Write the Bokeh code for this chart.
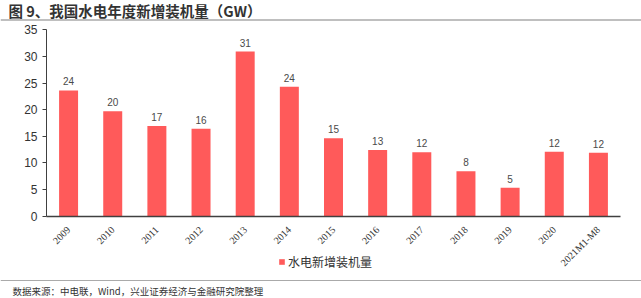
from bokeh.plotting import figure
from bokeh.models import (ColumnDataSource, Range1d, FixedTicker, LabelSet, Label, Span,
                          Legend, LegendItem)
from bokeh.core.properties import value
from bokeh.embed import file_html
from bokeh.resources import INLINE
from math import pi

years = ["2009", "2010", "2011", "2012", "2013", "2014", "2015", "2016",
         "2017", "2018", "2019", "2020", "2021M1-M8"]
capacity = [23.6, 19.7, 16.9, 16.4, 30.9, 24.3, 14.6, 12.4, 12.0, 8.4, 5.3, 12.1, 11.9]
value_labels = ["24", "20", "17", "16", "31", "24", "15", "13", "12", "8", "5", "12", "12"]
y_ticks = [0, 5, 10, 15, 20, 25, 30, 35]
series_name = "水电新增装机量"
title_text = "图 9、我国水电年度新增装机量（GW）"
source_text = "数据来源：中电联，Wind，兴业证券经济与金融研究院整理"

BAR = "#FF5A5A"
CJK = "Noto Sans CJK SC"
W, H = 641, 298

# pixel geometry of the plotting area inside the full-canvas frame
AX_LEFT, AX_RIGHT = 46, 620      # x-axis extent in pixels
Y0_PX, YTOP_PX = 215.5, 29.3     # pixel rows of y=0 and y=35
n = len(years)
xu = (AX_RIGHT - AX_LEFT) / n
yu = (Y0_PX - YTOP_PX) / 35.0


def px_x(px):
    return -0.5 + (px - AX_LEFT) / xu


def px_y(py):
    return (Y0_PX - py) / yu


xs = list(range(n))
src = ColumnDataSource(dict(x=xs, y=capacity, lab=value_labels))

p = figure(width=W, height=H, x_range=Range1d(px_x(0), px_x(W)),
           y_range=Range1d(px_y(H), px_y(0)), output_backend="svg", toolbar_location=None,
           min_border=0)
p.outline_line_color = None
p.xgrid.grid_line_color = None
p.ygrid.grid_line_color = None

r = p.vbar(x="x", top="y", width=0.43, source=src, fill_color=BAR, line_color=None)

p.add_layout(LabelSet(x="x", y="y", text="lab", source=src, y_offset=5, text_align="center",
                      text_baseline="bottom", text_font_size=value("10px"),
                      text_color=value("#4a4a4a"), text_font=value("Liberation Sans")))

yax = p.yaxis[0]
yax.fixed_location = -0.5
yax.bounds = (0, 35)
yax.ticker = FixedTicker(ticks=y_ticks)
yax.axis_line_color = "#404040"
yax.major_tick_line_color = "#404040"
yax.major_tick_in = 0
yax.major_tick_out = 4
yax.minor_tick_line_color = None
yax.major_label_text_font = "Liberation Sans"
yax.major_label_text_font_size = "12px"
yax.major_label_text_color = "#333333"
yax.major_label_standoff = 5

xax = p.xaxis[0]
xax.fixed_location = 0
xax.bounds = (-0.5, n - 0.5)
xax.ticker = FixedTicker(ticks=xs)
xax.major_label_overrides = {i: y for i, y in zip(xs, years)}
xax.axis_line_color = "#404040"
xax.axis_line_width = 1.5
xax.major_tick_line_color = None
xax.minor_tick_line_color = None
xax.major_label_orientation = pi / 4
xax.major_label_text_font = "Liberation Serif"
xax.major_label_text_font_size = "10px"
xax.major_label_text_color = "#333333"
xax.major_label_standoff = 6

legend = Legend(items=[LegendItem(label=series_name, renderers=[r])],
                location=(278, H - 270), orientation="horizontal", padding=0, margin=0,
                glyph_width=7, glyph_height=7, label_standoff=3, label_height=12,
                label_text_font=CJK, label_text_font_size="12px", label_text_color="#333333",
                border_line_color=None, background_fill_alpha=0)
p.add_layout(legend)

p.add_layout(Label(x=px_x(8), y=px_y(10), text=title_text,
                   text_font=CJK, text_font_size="14.5px", text_font_style="bold",
                   text_color="#333333", text_baseline="middle"))
p.add_layout(Span(location=px_y(19.5), dimension="width", line_color="#AAAAAA", line_width=1.5))
p.add_layout(Span(location=px_y(280), dimension="width", line_color="#AAAAAA", line_width=1.2))
p.add_layout(Label(x=px_x(12), y=px_y(290), text=source_text,
                   text_font=CJK, text_font_size="9.5px", text_color="#333333",
                   text_baseline="middle"))

open("out.html", "w").write(file_html(p, INLINE))
